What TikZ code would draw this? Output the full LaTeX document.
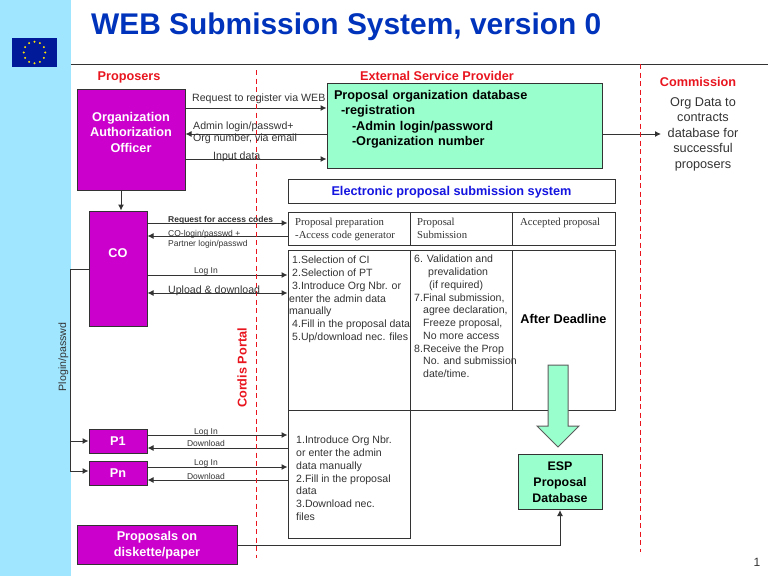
\documentclass[tikz,border=0pt]{standalone}
\usepackage{fontspec}
\usetikzlibrary{arrows.meta}
\setmainfont{Liberation Sans}
\newfontfamily\cellfont{Liberation Serif}
\definecolor{bandblue}{HTML}{A0E6FF}
\definecolor{flagblue}{HTML}{001A99}
\definecolor{titleblue}{HTML}{0033BB}
\definecolor{sysblue}{HTML}{1414E0}
\definecolor{portalred}{HTML}{E8141E}
\definecolor{magbox}{HTML}{CC00CC}
\definecolor{mintbox}{HTML}{99FFCC}
\definecolor{inkgray}{HTML}{333333}
\tikzset{
	propbox/.style={draw=inkgray,fill=magbox,line width=1pt,text=white,align=center,inner sep=0pt,font=\bfseries\fontsize{12.7}{15.5}\selectfont},
	dbbox/.style={draw=inkgray,fill=mintbox,line width=1pt,text=black,inner sep=0pt,font=\bfseries\fontsize{12.7}{15.5}\selectfont},
	cellbox/.style={draw=inkgray,fill=white,line width=1pt,inner sep=0pt},
	lnk/.style={draw=inkgray,line width=1pt,-{Latex[length=6pt,width=6pt]}},
	twolnk/.style={draw=inkgray,line width=1pt,{Latex[length=6pt,width=6pt]}-{Latex[length=6pt,width=6pt]}},
	plainlnk/.style={draw=inkgray,line width=1pt},
	portal/.style={draw=portalred,line width=1pt,dash pattern=on 5pt off 3.5pt},
	head/.style={text=portalred,font=\bfseries\fontsize{12.7}{14}\selectfont,inner sep=0pt},
	lab/.style={text=inkgray,inner sep=0pt,anchor=west,align=left,font=\fontsize{10.6}{12.2}\selectfont},
	tinylab/.style={text=inkgray,inner sep=0pt,font=\fontsize{8.5}{10}\selectfont},
	listtext/.style={text=inkgray,inner sep=0pt,anchor=north west,align=left,font=\fontsize{10.55}{12.75}\selectfont},
	celltext/.style={text=inkgray,inner sep=0pt,anchor=north west,align=left,font=\cellfont\fontsize{10.7}{13}\selectfont},
}
\begin{document}
\begin{tikzpicture}[x=1pt,y=-1pt]
	\useasboundingbox (0,0) rectangle (768,576);
	\fill[bandblue] (0,0) rectangle (71,576);
	\node[fill=flagblue,minimum width=45,minimum height=29,inner sep=0pt] (flag) at (34.5,52.5) {};
	\foreach \st in {1,...,12}{
		\fill[yellow!85!orange] (flag.center) ++(30*\st:10.8) circle (1.1);
	};
	\node[anchor=west,inner sep=0pt,text=titleblue,font=\bfseries\fontsize{29.9}{32}\selectfont] (title) at (91,27) {WEB Submission System, version 0};
	\draw[inkgray,line width=1pt] (71,64) -- (768,64);

	\node[head] (proposers) at (129,77.5) {Proposers};
	\node[head] (extprov) at (437,75.5) {External Service Provider};
	\node[head] (commission) at (698,81.5) {Commission};
	\node[text=inkgray,inner sep=0pt,align=center,font=\fontsize{12.7}{15.5}\selectfont] (orgdata) at (703,134) {Org Data to\\contracts\\database for\\successful\\proposers};

	% proposers side
	\node[propbox,minimum width=108,minimum height=101,text depth=15pt] (oao) at (131,139.5) {Organization\\Authorization\\Officer};
	\node[propbox,minimum width=58,minimum height=115,text depth=31pt] (co) at (118,268.5) {CO};
	\node[propbox,minimum width=58,minimum height=24] (p1) at (118,441) {P1};
	\node[propbox,minimum width=58,minimum height=24] (pn) at (118,473) {Pn};
	\node[propbox,minimum width=160,minimum height=39] (paper) at (157,545) {Proposals on\\diskette/paper};

	% provider side
	\node[dbbox,text width=261,inner xsep=7,minimum height=85,text depth=62pt,align=left] (orgdb) at (464.5,125.5) {Proposal organization database\\
		\hspace*{7pt}-registration\\
		\hspace*{18pt}-Admin login/password\\
		\hspace*{18pt}-Organization number};
	\node[cellbox,minimum width=327,minimum height=24,text depth=0pt,text=sysblue,font=\bfseries\fontsize{12.7}{14}\selectfont] (sys) at (451.5,191) {Electronic proposal submission system};

	\node[cellbox,minimum width=122,minimum height=33] (prep) at (349,228.5) {};
	\node[cellbox,minimum width=102,minimum height=33] (subm) at (461,228.5) {};
	\node[cellbox,minimum width=103,minimum height=33] (acc) at (563.5,228.5) {};
	\node[celltext] (preptext) at (295,217.5) {Proposal preparation\\-Access code generator};
	\node[celltext] (submtext) at (417,217.5) {Proposal\\Submission};
	\node[celltext] (acctext) at (520,217.5) {Accepted proposal};

	\node[cellbox,minimum width=122,minimum height=160] (stepsco) at (349,330) {};
	\node[cellbox,minimum width=102,minimum height=160] (stepsval) at (461,330) {};
	\node[cellbox,minimum width=103,minimum height=160,text depth=22pt,text=black,font=\bfseries\fontsize{12.7}{14}\selectfont] (late) at (563.5,330) {After Deadline};
	\node[cellbox,minimum width=122,minimum height=128] (stepsp) at (349,474) {};
	\node[listtext] (scotext) at (289,256) {\hspace*{3pt}1.Selection of CI\\
		\hspace*{3pt}2.Selection of PT\\
		\hspace*{3pt}3.Introduce Org Nbr. or\\
		enter the admin data\\
		manually\\
		\hspace*{3pt}4.Fill in the proposal data\\
		\hspace*{3pt}5.Up/download nec. files};
	\node[listtext] (svaltext) at (414,255) {6. Validation and\\
		\hspace*{14pt}prevalidation\\
		\hspace*{15pt}(if required)\\
		7.Final submission,\\
		\hspace*{9pt}agree declaration,\\
		\hspace*{9pt}Freeze proposal,\\
		\hspace*{9pt}No more access\\
		8.Receive the Prop\\
		\hspace*{9pt}No. and submission\\
		\hspace*{9pt}date/time.};
	\node[listtext] (sptext) at (296,436) {1.Introduce Org Nbr.\\or enter the admin\\data manually\\2.Fill in the proposal\\data\\3.Download nec.\\files};

	\node[dbbox,minimum width=84,minimum height=55,align=center,font=\bfseries\fontsize{12.4}{15.8}\selectfont] (espdb) at (560,482) {ESP\\Proposal\\Database};
	\draw[draw=inkgray!80,fill=mintbox,line width=1pt] (548,365) -- (568,365) -- (568,426) -- (579,426) -- (558,447) -- (537,426) -- (548,426) -- cycle;

	% links
	\draw (121,0 |- oao.south) edge[lnk] (121,0 |- co.north);
	\draw (oao.east |- 0,108) edge[lnk] (orgdb.west |- 0,108);
	\draw (orgdb.west |- 0,134) edge[lnk] (oao.east |- 0,134);
	\draw (oao.east |- 0,159) edge[lnk] (orgdb.west |- 0,159);
	\coordinate (orgin) at (661,134);
	\draw (orgdb.east |- orgin) edge[lnk] (orgin);

	\draw (co.east |- 0,223) edge[lnk] (prep.west |- 0,223);
	\draw (prep.west |- 0,236) edge[lnk] (co.east |- 0,236);
	\draw (co.east |- 0,275) edge[lnk] (stepsco.west |- 0,275);
	\draw (co.east |- 0,293) edge[twolnk] (stepsco.west |- 0,293);

	\draw (p1.east |- 0,435) edge[lnk] (stepsp.west |- 0,435);
	\draw (stepsp.west |- 0,448) edge[lnk] (p1.east |- 0,448);
	\draw (pn.east |- 0,467) edge[lnk] (stepsp.west |- 0,467);
	\draw (stepsp.west |- 0,480) edge[lnk] (pn.east |- 0,480);

	\coordinate (bus) at (70,269);
	\coordinate (busend) at (70,471);
	\draw[plainlnk] (co.west |- bus) -- (bus) -- (busend);
	\draw (bus |- p1.west) edge[lnk] (p1.west);
	\draw (busend) edge[lnk] (pn.west |- busend);
	\draw[lnk] (paper.east) -- (espdb.south |- paper.east) -- (espdb.south);

	% portal lines
	\coordinate (cordtop) at (256,70);
	\coordinate (cordend) at (256,558);
	\coordinate (commtop) at (640,64);
	\coordinate (commend) at (640,552);
	\draw[portal] (cordtop) -- (cordend);
	\draw[portal] (commtop) -- (commend);
	\node[head,rotate=90] (cordis) at (242,368) {Cordis Portal};
	\node[text=inkgray,inner sep=0pt,rotate=90,font=\fontsize{10.6}{12}\selectfont] (plogin) at (63.5,357) {Plogin/passwd};

	% link labels
	\node[lab] (reqweb) at (192,99) {Request to register via WEB};
	\node[lab] (adminlab) at (193,133) {Admin login/passwd+\\Org number, via email};
	\node[lab] (inputlab) at (213,157) {Input data};
	\node[tinylab,anchor=west,font=\bfseries\fontsize{8.5}{10}\selectfont] (reqcodes) at (168,220.5) {Request for access codes};
	\node[tinylab,anchor=west,align=left] (colab) at (168,239) {CO-login/passwd +\\Partner login/passwd};
	\node[tinylab] (login) at (206,271) {Log In};
	\node[lab] (upload) at (168,291) {Upload \& download};
	\node[tinylab] (loginp) at (206,432) {Log In};
	\node[tinylab] (downp) at (206,443.5) {Download};
	\node[tinylab] (loginn) at (206,463) {Log In};
	\node[tinylab] (downn) at (206,476) {Download};

	\node[text=inkgray,inner sep=0pt,font=\fontsize{12}{14}\selectfont] (pageno) at (757,562) {1};
\end{tikzpicture}
\end{document}
